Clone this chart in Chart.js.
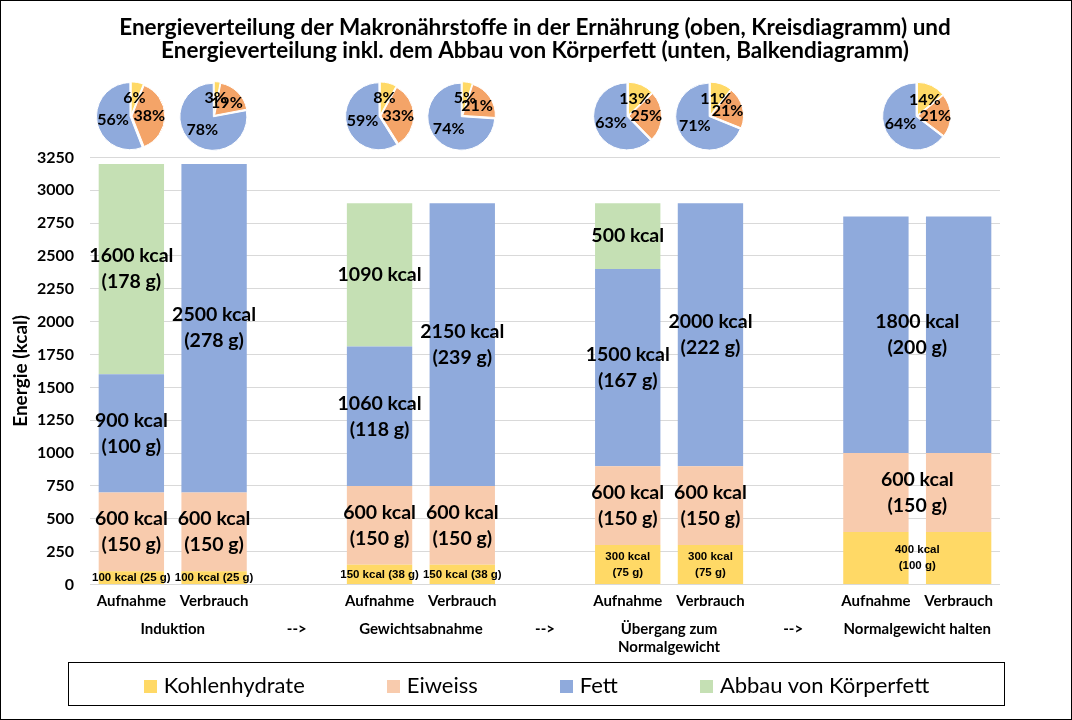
<!DOCTYPE html>
<html>
<head>
<meta charset="utf-8">
<script src="https://cdn.jsdelivr.net/npm/chart.js@4/dist/chart.umd.min.js"></script>
<style>
  body { margin: 0; background: #fff; }
  #wrap { position: relative; width: 1072px; height: 720px; font-family: Lato, sans-serif; }
  #chart { position: absolute; left: 0; top: 0; }
  .pie { position: absolute; width: 70px; height: 70px; }
  #legend {
    position: absolute; left: 68px; top: 662px; width: 935px; height: 42px;
    border: 1px solid #000; display: flex; justify-content: center; align-items: center;
    gap: 82px; font-size: 22px; color: #000;
  }
  #legend span.box { display: inline-block; width: 13px; height: 13px; margin-right: 7px; vertical-align: 0px; }
</style>
</head>
<body>
<div id="wrap">
  <canvas id="chart" width="1072" height="720"></canvas>
  <div id="legend"></div>
</div>
<script>
// categories / phases
const categories = ["Aufnahme", "Verbrauch", "", "Aufnahme", "Verbrauch", "", "Aufnahme", "Verbrauch", "", "Aufnahme", "Verbrauch"];
const phaseLabels = ["Induktion", "-->", "Gewichtsabnahme", "-->", ["Übergang zum", "Normalgewicht"], "-->", "Normalgewicht halten"];
const phasePos = [0.5, 2, 3.5, 5, 6.5, 8, 9.5];
const yTicks = [0, 3250, 250]; // min, max, step

// energy in kcal per bar
const kohlenhydrate = [100, 100, null, 150, 150, null, 300, 300, null, 400, 400];
const eiweiss = [600, 600, null, 600, 600, null, 600, 600, null, 600, 600];
const fett = [900, 2500, null, 1060, 2150, null, 1500, 2000, null, 1800, 1800];
const abbau = [1600, null, null, 1090, null, null, 500, null, null, null, null];

// pie percentages (as printed)
const pieSlots = [0, 1, 3, 4, 6, 7, 9.5];
const pieKH = [6, 3, 8, 5, 13, 11, 14];
const pieEW = [38, 19, 33, 21, 25, 21, 21];
const pieFett = [56, 78, 59, 74, 63, 71, 64];

const seriesNames = ["Kohlenhydrate", "Eiweiss", "Fett", "Abbau von Körperfett"];
const barColors = ["#FFD966", "#F8CBAD", "#8FAADC", "#C5E0B4"];
const pieColors = ["#FFD966", "#F4A468", "#8FAADC"];

const sharedLabel = 9; // last phase: one label for both bars

// label text from the values
const g = (v, f) => Math.round(v / f);
const khLabels = kohlenhydrate.map((v, i) => v == null || i === sharedLabel + 1 ? null :
  (v < 200 ? [`${v} kcal (${g(v, 4)} g)`] : [`${v} kcal`, `(${g(v, 4)} g)`]));
const ewLabels = eiweiss.map((v, i) => v == null || i === sharedLabel + 1 ? null : [`${v} kcal`, `(${g(v, 4)} g)`]);
const fettLabels = fett.map((v, i) => v == null || i === sharedLabel + 1 ? null : [`${v} kcal`, `(${g(v, 9)} g)`]);
const abbauLabels = abbau.map((v, i) => v == null ? null : (i === 0 ? [`${v} kcal`, `(${g(v, 9)} g)`] : [`${v} kcal`]));

const FONT = "Lato, sans-serif";

const barLabels = {
  id: "barLabels",
  afterDatasetsDraw(chart) {
    const ctx = chart.ctx;
    ctx.save();
    ctx.textAlign = "center";
    ctx.textBaseline = "middle";
    ctx.fillStyle = "#000";
    chart.data.datasets.forEach((ds, di) => {
      const meta = chart.getDatasetMeta(di);
      const small = di === 0;
      ctx.font = small ? "bold 11.5px 'Liberation Sans Narrow', 'Arial Narrow', sans-serif" : "bold 19.5px " + FONT;
      const lh = small ? 16 : 26;
      ds.valueLabels.forEach((lines, i) => {
        if (!lines) return;
        const el = meta.data[i];
        let x = el.x;
        if (i === sharedLabel) x = (el.x + meta.data[i + 1].x) / 2;
        const y = (el.y + el.base) / 2;
        lines.forEach((t, k) => ctx.fillText(t, x, y + (k - (lines.length - 1) / 2) * lh));
      });
    });
    ctx.restore();
  }
};

const frame = {
  id: "frame",
  afterDraw(chart) {
    const ctx = chart.ctx;
    ctx.save();
    ctx.strokeStyle = "#000";
    ctx.lineWidth = 1;
    ctx.strokeRect(0.5, 0.5, chart.width - 1, chart.height - 1);
    ctx.restore();
  }
};

const mk = (i, data, labels) => ({
  label: seriesNames[i],
  data: data,
  backgroundColor: barColors[i],
  valueLabels: labels
});

const chart = new Chart(document.getElementById("chart"), {
  type: "bar",
  data: {
    labels: categories,
    datasets: [
      mk(0, kohlenhydrate, khLabels),
      mk(1, eiweiss, ewLabels),
      mk(2, fett, fettLabels),
      mk(3, abbau, abbauLabels)
    ]
  },
  options: {
    responsive: false,
    animation: false,
    layout: { padding: { top: 6, left: 5, right: 7, bottom: 62 } },
    datasets: { bar: { barPercentage: 0.79, categoryPercentage: 1 } },
    plugins: {
      legend: { display: false },
      tooltip: { enabled: false },
      title: {
        display: true,
        text: ["Energieverteilung der Makronährstoffe in der Ernährung (oben, Kreisdiagramm) und",
               "Energieverteilung inkl. dem Abbau von Körperfett (unten, Balkendiagramm)"],
        color: "#000",
        font: { family: FONT, size: 22.5, weight: "bold", lineHeight: 1.03 },
        padding: { top: 10, bottom: 95 }
      }
    },
    scales: {
      x: {
        stacked: true,
        grid: { display: false, drawTicks: false },
        border: { display: false },
        ticks: { color: "#000", font: { family: FONT, size: 15, weight: "bold" }, padding: 8, maxRotation: 0, autoSkip: false }
      },
      x2: {
        type: "linear",
        position: "bottom",
        offset: false,
        min: -0.5,
        max: 10.5,
        grid: { display: false, drawTicks: false },
        border: { display: false },
        afterBuildTicks: (axis) => { axis.ticks = phasePos.map(v => ({ value: v })); },
        ticks: {
          color: "#000",
          font: { family: FONT, size: 15, weight: "bold", lineHeight: 1.25 },
          padding: 1,
          maxRotation: 0,
          autoSkip: false,
          callback: (v) => phaseLabels[phasePos.indexOf(v)]
        }
      },
      y: {
        stacked: true,
        min: yTicks[0],
        max: yTicks[1],
        grid: { color: "#D9D9D9", drawTicks: false },
        border: { display: false },
        afterFit: (axis) => { axis.width = 85; },
        ticks: { stepSize: yTicks[2], color: "#000", padding: 16, font: { family: FONT, size: 16, weight: "bold" }, callback: (v) => String(v) },
        title: { display: true, text: "Energie (kcal)", color: "#000", font: { family: FONT, size: 19, weight: "bold" }, padding: { top: 4, bottom: 8 } }
      },
      // empty right margin so the title stays centred on the page
      y2: {
        position: "right",
        display: true,
        grid: { display: false, drawTicks: false },
        border: { display: false },
        ticks: { display: false },
        afterFit: (axis) => { axis.width = 65; }
      }
    }
  },
  plugins: [barLabels, frame]
});

// pie labels
const pieLabels = {
  id: "pieLabels",
  afterDatasetsDraw(c) {
    const ctx = c.ctx;
    ctx.save();
    ctx.textAlign = "center";
    ctx.textBaseline = "middle";
    ctx.fillStyle = "#000";
    ctx.font = "bold 16px " + FONT;
    const meta = c.getDatasetMeta(0);
    meta.data.forEach((arc, i) => {
      const p = arc.tooltipPosition();
      ctx.fillText(c.data.datasets[0].data[i] + "%", p.x, p.y);
    });
    ctx.restore();
  }
};

const wrap = document.getElementById("wrap");
pieSlots.forEach((slot, k) => {
  const cx = chart.scales.x.getPixelForValue(slot);
  const div = document.createElement("div");
  div.className = "pie";
  div.style.left = (cx - 35) + "px";
  div.style.top = (116 - 35) + "px";
  const cv = document.createElement("canvas");
  cv.width = 70; cv.height = 70;
  div.appendChild(cv);
  wrap.appendChild(div);
  new Chart(cv, {
    type: "pie",
    data: {
      labels: seriesNames.slice(0, 3),
      datasets: [{
        data: [pieKH[k], pieEW[k], pieFett[k]],
        backgroundColor: pieColors,
        borderColor: "#fff",
        borderWidth: 1,
        offset: 4
      }]
    },
    options: {
      responsive: false,
      animation: false,
      plugins: { legend: { display: false }, tooltip: { enabled: false } }
    },
    plugins: [pieLabels]
  });
});

// legend
const legend = document.getElementById("legend");
seriesNames.forEach((name, i) => {
  const item = document.createElement("div");
  item.innerHTML = `<span class="box" style="background:${barColors[i]}"></span>${name}`;
  legend.appendChild(item);
});
</script>
</body>
</html>
